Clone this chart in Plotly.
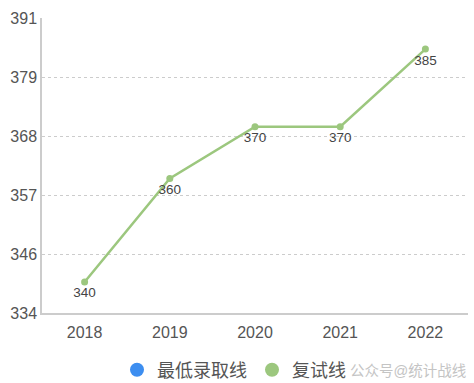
import plotly.graph_objects as go

years = ["2018", "2019", "2020", "2021", "2022"]
retest_line = [340, 360, 370, 370, 385]
min_admit_line = [None, None, None, None, None]
tick_vals = [334, 345.4, 356.8, 368.2, 379.6, 391]
tick_text = ["334", "346", "357", "368", "379", "391"]

green = "#9cc77e"
blue = "#3d8ef0"
font_family = "Liberation Sans, Noto Sans CJK SC, sans-serif"

fig = go.Figure()
fig.add_trace(go.Scatter(
    x=years, y=retest_line, mode="lines+markers+text",
    line=dict(color=green, width=2.5),
    marker=dict(color=green, size=7),
    text=[str(v) for v in retest_line], textposition="bottom center",
    textfont=dict(size=13.5, color="#444"),
    showlegend=False, cliponaxis=False,
))
fig.add_trace(go.Scatter(
    x=years, y=min_admit_line, mode="markers", name="最低录取线",
    marker=dict(color=blue, size=14),
))
fig.add_trace(go.Scatter(
    x=years, y=[None] * len(years), mode="markers", name="复试线",
    marker=dict(color=green, size=14),
))

fig.update_layout(
    width=474, height=383,
    margin=dict(l=42, r=6, t=18, b=70, autoexpand=False),
    paper_bgcolor="white", plot_bgcolor="white",
    font=dict(family=font_family, color="#555"),
    legend=dict(orientation="h", xref="container", yref="container",
                x=234 / 474, xanchor="center", y=13 / 383, yanchor="middle",
                font=dict(size=18, color="#555"), tracegroupgap=0),
)
fig.add_annotation(text="公众号@统计战线", xref="paper", yref="paper",
                   x=1.0, y=-0.195, xanchor="right", yanchor="middle",
                   showarrow=False, font=dict(size=14.5, color="#c4c4c4"))

fig.update_xaxes(
    type="category", range=[-0.5, 4.5],
    showline=True, linecolor="#cccccc", linewidth=1.5,
    showgrid=False, ticks="outside", ticklen=4, tickcolor="rgba(0,0,0,0)",
    tickfont=dict(size=16, color="#555"),
)
fig.update_yaxes(
    range=[334, 391], tickvals=tick_vals, ticktext=tick_text,
    showline=True, linecolor="#cccccc", linewidth=1.5,
    showgrid=True, gridcolor="#cccccc", griddash="dot", gridwidth=1,
    zeroline=False, ticks="", tickfont=dict(size=16, color="#555"),
)

fig.write_html("out.html", config={"displayModeBar": False},
               post_script="document.body.style.margin='0';")
